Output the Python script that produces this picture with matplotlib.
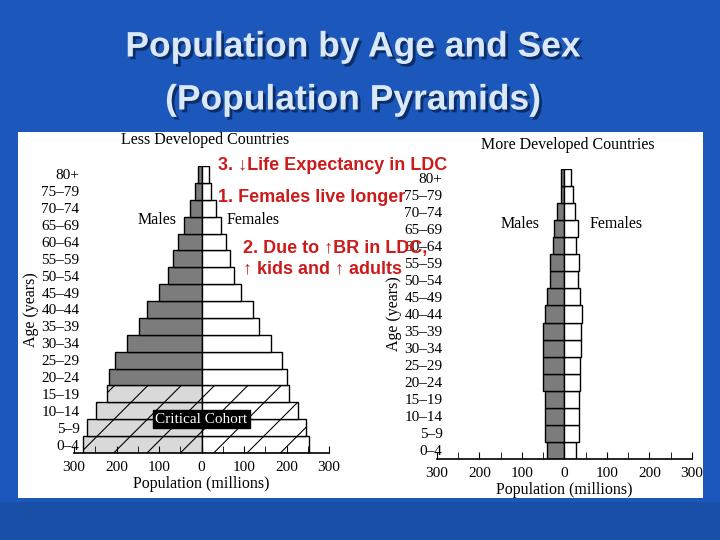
import matplotlib
matplotlib.use("Agg")
import matplotlib.pyplot as plt
from matplotlib.patches import Rectangle
import matplotlib.patheffects as pe
import numpy as np

ages = ["0–4","5–9","10–14","15–19","20–24","25–29","30–34","35–39","40–44",
        "45–49","50–54","55–59","60–64","65–69","70–74","75–79","80+"]
ldc_male   = [279,270,248,222,218,204,175,147,128,99,79,67,56,42,27,16,9]
ldc_female = [254,247,226,206,201,190,163,136,122,93,77,67,57,46,34,23,18]
mdc_male   = [41,47,47,47,50,50,50,50,47,42,33,33,27,24,17,9,9]
mdc_female = [27,33,33,33,36,36,39,39,41,36,31,33,28,31,25,19,16]
xticks = [-300,-200,-100,0,100,200,300]
xticklabels = ["300","200","100","0","100","200","300"]

plt.rcParams["hatch.linewidth"] = 0.8
fig = plt.figure(figsize=(7.2,5.4), dpi=100)
fig.patch.set_facecolor("#1c58bb")
fig.patches.append(Rectangle((18/720, 42/540), 685/720, 366/540, transform=fig.transFigure,
                             facecolor="white", edgecolor="none", zorder=-2))
fig.patches.append(Rectangle((0, 0), 1, 38/540, transform=fig.transFigure,
                             facecolor="#1a4fa8", edgecolor="none", zorder=-2))

shadow = [pe.withSimplePatchShadow(offset=(2,-2), shadow_rgbFace="#0a2a60", alpha=0.9)]
fig.text(353/720, 1-47/540, "Population by Age and Sex", ha="center", va="center",
         fontsize=25.5, fontweight="bold", color="#dbe8f7", family="Liberation Sans", path_effects=shadow)
fig.text(353/720, 1-100/540, "(Population Pyramids)", ha="center", va="center",
         fontsize=25.5, fontweight="bold", color="#dbe8f7", family="Liberation Sans", path_effects=shadow)

serif = "Liberation Serif"
y = np.arange(len(ages))

def setup(ax):
    ax.set_xlim(-300,300)
    ax.set_ylim(-0.5,16.5)
    ax.set_facecolor("none")
    for s in ["top","right","left"]:
        ax.spines[s].set_visible(False)
    ax.spines["bottom"].set_linewidth(1.2)
    ax.set_xticks(xticks)
    ax.set_xticklabels(xticklabels, family=serif, fontsize=11)
    ax.set_xticks(np.arange(-250,300,100), minor=True)
    ax.tick_params(axis="x", which="both", direction="in", length=5, pad=6)
    ax.set_yticks(y)
    ax.set_yticklabels(ages, family=serif, fontsize=11)
    ax.tick_params(axis="y", length=0, pad=-4)
    ax.set_xlabel("Population (millions)", family=serif, fontsize=11.5, labelpad=1)
    ax.set_ylabel("Age (years)", family=serif, fontsize=11.5, labelpad=2)

ax1 = fig.add_axes([74/720, 87/540, 255/720, 287/540], zorder=1)
setup(ax1)
for i in range(len(ages)):
    cohort = i < 4
    ax1.barh(y[i], -ldc_male[i], height=1, color="#d9d9d9" if cohort else "#7c7c7c",
             edgecolor="black", lw=1, hatch="/" if cohort else None)
    ax1.barh(y[i], ldc_female[i], height=1, color="white", edgecolor="black", lw=1,
             hatch="/" if cohort else None)
ax1.text(0, 1.5, "Critical Cohort", ha="center", va="center", family=serif, fontsize=11,
         color="white", bbox=dict(facecolor="black", edgecolor="black", pad=2))
ax1.text(-105, 13.3, "Males", ha="center", va="center", family=serif, fontsize=11.5)
ax1.text(60, 13.3, "Females", ha="left", va="center", family=serif, fontsize=11.5)
fig.text(205/720, 1-140/540, "Less Developed Countries", ha="center", va="center", family=serif, fontsize=11.5)

ax2 = fig.add_axes([437/720, 81/540, 255/720, 290/540], zorder=1)
setup(ax2)
ax2.barh(y, [-v for v in mdc_male], height=1, color="#7c7c7c", edgecolor="black", lw=1)
ax2.barh(y, mdc_female, height=1, color="white", edgecolor="black", lw=1)
ax2.text(-105, 13.3, "Males", ha="center", va="center", family=serif, fontsize=11.5)
ax2.text(60, 13.3, "Females", ha="left", va="center", family=serif, fontsize=11.5)
fig.text(568/720, 1-145/540, "More Developed Countries", ha="center", va="center", family=serif, fontsize=11.5)

red = "#cc1b1b"
fam = ["Liberation Sans", "DejaVu Sans"]
for (xx, yy, s) in [(218,166,"3. ↓Life Expectancy in LDC"), (218,197,"1. Females live longer"),
                    (243,248,"2. Due to ↑BR in LDC,"), (243,269,"↑ kids and ↑ adults")]:
    fig.text(xx/720, 1-yy/540, s, ha="left", va="center", fontsize=13,
             fontweight="bold", color=red, family=fam, zorder=5)

fig.savefig("out.png", dpi=100, facecolor=fig.get_facecolor())
